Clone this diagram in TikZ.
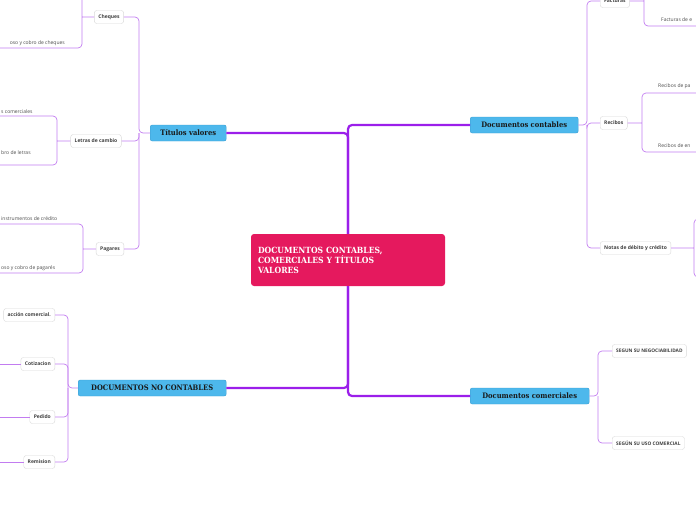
\documentclass[tikz,border=0pt]{standalone}
\usepackage{fontspec}
\setmainfont{DejaVu Serif Condensed}
\setsansfont{Open Sans}
\definecolor{lb}{HTML}{4DB8EC}
\definecolor{lbd}{HTML}{3A9CD0}
\definecolor{pk}{HTML}{E5195E}
\definecolor{pu}{HTML}{9B1FEA}
\definecolor{pl}{HTML}{C27CF0}
\begin{document}
\begin{tikzpicture}[x=1pt,y=-1pt,
  topic/.style={draw=lbd,fill=lb,rounded corners=2pt,minimum height=16pt,font=\bfseries\fontsize{7.5}{9}\selectfont,inner xsep=6pt,anchor=west,align=left,text=black!90},
  sub/.style={draw=black!15,fill=white,rounded corners=2.5pt,minimum height=13pt,font=\sffamily\bfseries\fontsize{5}{6}\selectfont,text=black!75,inner xsep=4pt},
  leaf/.style={font=\sffamily\fontsize{5}{6}\selectfont,text=black!70,inner sep=1pt},
  thick1/.style={draw=pu,line width=2.2pt,rounded corners=4pt},
  thin1/.style={draw=pl,line width=0.7pt,rounded corners=4pt}]
\useasboundingbox (0,0) rectangle (696,520);
\clip (0,0) rectangle (696,520);
% central
\node[fill=pk,rounded corners=3pt,minimum width=194pt,minimum height=52pt,text width=180pt,align=left,text=white,font=\bfseries\fontsize{8.5}{10}\selectfont] (c) at (348,260) {DOCUMENTOS CONTABLES,\\COMERCIALES Y TÍTULOS\\VALORES};
% topics
\node[topic,minimum width=76pt] (tv) at (150,133) {Títulos valores};
\node[topic,minimum width=108pt] (dc) at (470,125) {Documentos contables};
\node[topic,minimum width=148pt] (dnc) at (78,388) {DOCUMENTOS NO CONTABLES};
\node[topic,minimum width=119pt] (dco) at (470,396) {Documentos comerciales};
\draw[thick1] (c.north) -- (348,125) -- (dc.west);
\draw[thick1] (c.north) -- (348,133) -- (tv.east);
\draw[thick1] (c.south) -- (348,388) -- (dnc.east);
\draw[thick1] (c.south) -- (348,396) -- (dco.west);
% Titulos valores
\node[sub] (ch) at (109,17) {Cheques};
\node[sub] (lc) at (96,141) {Letras de cambio};
\node[sub] (pg) at (110,249) {Pagares};
\draw[thin1] (tv.west) -- (139,133) -- (139,17) -- (ch.east);
\draw[thin1] (139,133) -- (139,141) -- (lc.east);
\draw[thin1] (139,133) -- (139,249) -- (pg.east);
\draw[thin1] (ch.west) -- (82,17) (82,0) -- (82,48) -- (0,48);
\node[leaf,anchor=south east] (t1) at (66,47) {oso y cobro de cheques};
\draw[thin1] (lc.west) -- (57,141) (0,116) -- (57,116) -- (57,165) -- (0,165);
\node[leaf,anchor=south west] (t2) at (0,115) {s comerciales};
\node[leaf,anchor=south west] (t3) at (0,156) {bro de letras};
\draw[thin1] (pg.west) -- (83,249) (0,224) -- (83,224) -- (83,273) -- (0,273);
\node[leaf,anchor=south west] (t4) at (0,222) {instrumentos de crédito};
\node[leaf,anchor=south west] (t5) at (0,272) {oso y cobro de pagarés};
% Documentos contables
\node[sub,anchor=west] (fa) at (600,1) {Facturas};
\node[sub,anchor=west] (re) at (600,123) {Recibos};
\node[sub,anchor=west] (nd) at (600,248) {Notas de débito y crédito};
\draw[thin1] (dc.east) -- (587,125) -- (587,1) -- (fa.west);
\draw[thin1] (587,125) -- (587,123) -- (re.west);
\draw[thin1] (587,125) -- (587,248) -- (nd.west);
\draw[thin1] (fa.east) -- (644,1) (644,-5) -- (644,26) -- (696,26);
\node[leaf,anchor=south west] (t6) at (660,23) {Facturas de e};
\draw[thin1] (re.east) -- (642,123) (696,93) -- (642,93) -- (642,152) -- (696,152);
\node[leaf,anchor=south west] (t7) at (657,90) {Recibos de pa};
\node[leaf,anchor=south west] (t8) at (657,149) {Recibos de en};
\draw[thin1] (nd.east) -- (694,248) (700,219) -- (694,219) -- (694,277) -- (700,277);
% Comerciales
\node[sub,anchor=west,font=\sffamily\bfseries\fontsize{4.8}{6}\selectfont] (sn) at (612,351) {SEGUN SU NEGOCIABILIDAD};
\node[sub,anchor=west,font=\sffamily\bfseries\fontsize{4.8}{6}\selectfont] (su) at (612,443) {SEGÚN SU USO COMERCIAL};
\draw[thin1] (dco.east) -- (598,396) -- (598,351) -- (sn.west);
\draw[thin1] (598,396) -- (598,443) -- (su.west);
% No contables
\node[sub,anchor=east] (ac) at (55,315) {acción comercial.};
\node[sub,anchor=east] (co) at (55,364) {Cotizacion};
\node[sub,anchor=east] (pe) at (55,417) {Pedido};
\node[sub,anchor=east] (rm) at (55,462) {Remision};
\draw[thin1] (dnc.west) -- (68,388) -- (68,315) -- (ac.east);
\draw[thin1] (68,388) -- (68,364) -- (co.east);
\draw[thin1] (68,388) -- (68,417) -- (pe.east);
\draw[thin1] (68,388) -- (68,462) -- (rm.east);
\draw[thin1] (co.west) -- (0,364) (pe.west) -- (0,417) (rm.west) -- (0,462);
\end{tikzpicture}
\end{document}
